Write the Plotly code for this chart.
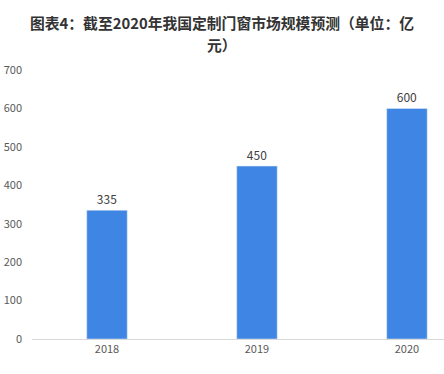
import plotly.graph_objects as go

years = ["2018", "2019", "2020"]
values = [335, 450, 600]
y_ticks = [0, 100, 200, 300, 400, 500, 600, 700]
title_lines = ["图表4：截至2020年我国定制门窗市场规模预测（单位：亿", "元）"]

fig = go.Figure()
fig.add_trace(go.Bar(
    x=years, y=values,
    marker_color="#3f86e4",
    width=0.27,
    text=[str(v) for v in values],
    textposition="outside",
    textfont=dict(size=12, color="#404040"),
    cliponaxis=False,
))

fig.update_layout(
    width=444, height=374,
    margin=dict(l=32, r=0, t=70, b=35),
    paper_bgcolor="white", plot_bgcolor="white",
    font=dict(family="Noto Sans CJK SC, sans-serif", color="#595959", size=11),
    showlegend=False,
    xaxis=dict(
        range=[-0.5, 2.247], automargin=False,
        showline=True, linecolor="#d9d9d9", linewidth=1,
        showgrid=False, ticks="", tickfont=dict(size=11, color="#595959"),
    ),
    yaxis=dict(
        range=[0, 700], tickvals=y_ticks, automargin=False,
        showgrid=False, zeroline=False, showline=False, ticks="",
        tickfont=dict(size=11, color="#595959"),
        ticklabelstandoff=9,
    ),
    bargap=0.73,
)

for i, line in enumerate(title_lines):
    fig.add_annotation(
        text="<b>" + line + "</b>",
        xref="paper", yref="paper", x=(222 - 32) / 412, y=1,
        xanchor="center", yanchor="middle",
        yshift=48 - i * 22,
        showarrow=False,
        font=dict(size=14.8, color="#333333", family="Noto Sans CJK SC, sans-serif"),
    )

fig.write_html("out.html", config={"displayModeBar": False},
               post_script="document.body.style.margin='0';")
